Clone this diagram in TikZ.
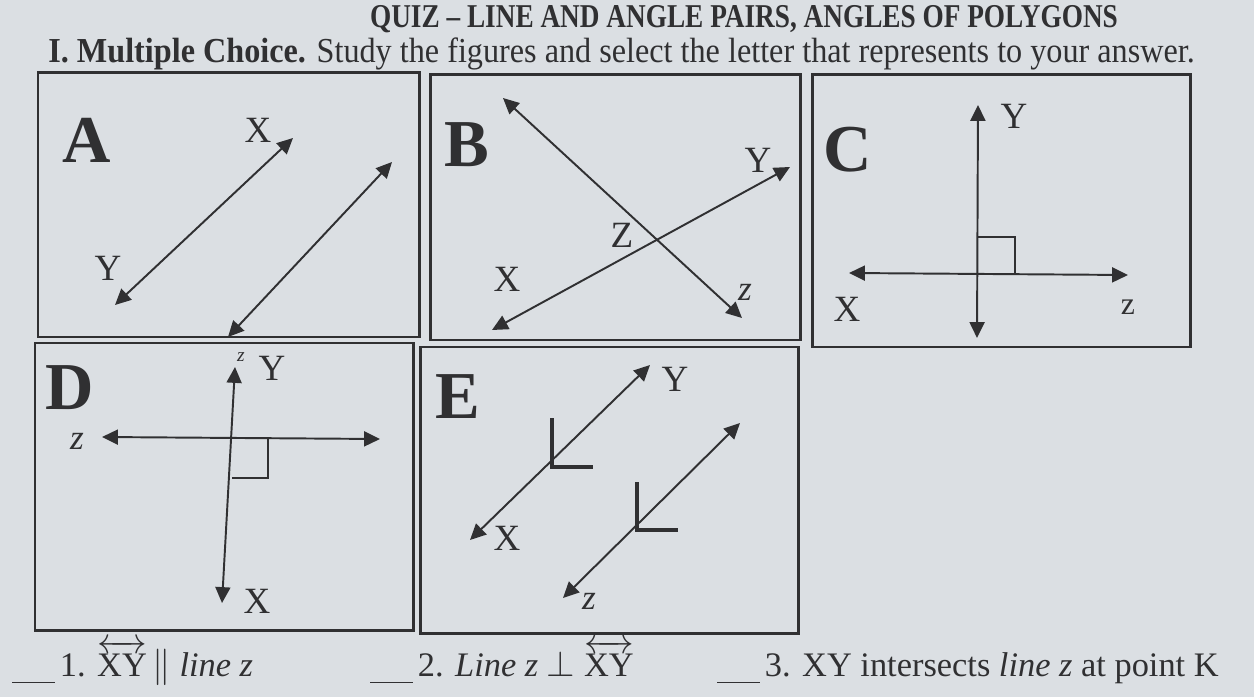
\documentclass[tikz,border=0pt]{standalone}
\usepackage{amsmath,amssymb}
\usepackage{fontspec}
\setmainfont{Liberation Serif}
\usepackage{graphicx}
\usetikzlibrary{arrows.meta,positioning}
\definecolor{paper}{RGB}{219,223,227}
\definecolor{ink}{RGB}{48,48,50}
\tikzstyle{panel}=[draw=ink,line width=1.7pt]
\tikzstyle{letter}=[font=\bfseries\fontsize{38}{38}\selectfont,text=ink,inner sep=0pt]
\tikzstyle{lbl}=[font=\fontsize{21}{21}\selectfont,text=ink,inner sep=0pt]
\tikzstyle{zlbl}=[font=\itshape\fontsize{20}{20}\selectfont,text=ink,inner sep=0pt]
\tikzstyle{line}=[draw=ink,line width=1.1pt,{Triangle[length=9pt,width=8.5pt]}-{Triangle[length=9pt,width=8.5pt]}]
\tikzstyle{rmark}=[draw=ink,line width=1.3pt]
\tikzstyle{lmark}=[draw=ink,line width=2.3pt]
\tikzstyle{item}=[font=\fontsize{19.5}{19.5}\selectfont,text=ink,inner sep=0pt,anchor=base west]
\newcommand{\blank}{\rule[-4pt]{24pt}{0.7pt}\hspace{3pt}}
\newcommand{\lineXY}{$\overleftrightarrow{\text{XY}}$}

\begin{document}
\begin{tikzpicture}[x=0.567pt,y=-0.567pt]
    \fill[paper] (0,0) rectangle (1254,697);
    \useasboundingbox (0,0) rectangle (1254,697);
    % heading
    \node[text=ink,inner sep=0pt,anchor=base] (title) at (744,28)
        {\resizebox{424pt}{12.5pt}{\bfseries QUIZ -- LINE AND ANGLE PAIRS, ANGLES OF POLYGONS}};
    \node[text=ink,inner sep=0pt,anchor=base west] (intro) at (48,63)
        {\resizebox{650pt}{14pt}{\textbf{I. Multiple Choice.} Study the figures and select the letter that represents to your answer.}};
    % panels
    \foreach \nw/\se in {{(38,73)/(419,337)}, {(430,75)/(800,340)}, {(812,75)/(1190,347)}, {(35,343)/(413,630)}, {(420,347)/(798,633)}}
        \draw[panel] \nw rectangle \se;
    \foreach \pos/\name in {{(87,140)/A}, {(467,145)/B}, {(848,150)/C}, {(70,388)/D}, {(458,397)/E}}
        \node[letter] (\name) at \pos {\name};
    % A
    \coordinate (aX) at (293,138); \coordinate (aY) at (115,305);
    \coordinate (az1) at (392,162); \coordinate (az2) at (228,337);
    \draw[line] (aY) -- (aX);
    \draw[line] (az2) -- (az1);
    \node[lbl] (aXl) at (258,130) {X};
    \node[lbl] (aYl) at (108,268) {Y};
    % B
    \coordinate (bz1) at (503,98); \coordinate (bz2) at (742,318);
    \coordinate (bY) at (790,167); \coordinate (bX) at (492,330);
    \draw[line] (bz1) -- (bz2);
    \draw[line] (bX) -- (bY);
    \node[lbl] (bYl) at (758,160) {Y};
    \node[lbl] (bZl) at (622,235) {Z};
    \node[lbl] (bXl) at (507,279) {X};
    \node[zlbl] (bzl) at (745,292) {z};
    % C
    \coordinate (cY) at (978,105); \coordinate (cY2) at (977,338);
    \coordinate (cX) at (849,273); \coordinate (cz) at (1128,275);
    \draw[line] (cY2) -- (cY);
    \draw[line] (cX) -- (cz);
    \draw[rmark] (978,237) -- (1015,237) -- (1015,274);
    \node[lbl] (cYl) at (1014,116) {Y};
    \node[lbl] (cXl) at (847,309) {X};
    \node[font=\fontsize{18}{18}\selectfont,text=ink,inner sep=0pt] (czl) at (1128,307) {z};
    % D
    \coordinate (dY) at (235,367); \coordinate (dX) at (222,603);
    \coordinate (dz) at (102,437); \coordinate (dz2) at (380,439);
    \draw[line] (dX) -- (dY);
    \draw[line] (dz) -- (dz2);
    \draw[rmark] (268,439) -- (268,478) -- (232,478);
    \node[lbl] (dYl) at (272,368) {Y};
    \node[zlbl,font=\itshape\fontsize{11}{11}\selectfont] (dzs) at (241,357) {z};
    \node[zlbl] (dzl) at (77,441) {z};
    \node[lbl] (dXl) at (257,601) {X};
    % E
    \coordinate (eY) at (650,365); \coordinate (eX) at (470,540);
    \coordinate (ez1) at (740,423); \coordinate (ez2) at (563,598);
    \draw[line] (eX) -- (eY);
    \draw[line] (ez2) -- (ez1);
    \draw[lmark] (552,418) -- (552,467) -- (593,467);
    \draw[lmark] (637,482) -- (637,530) -- (678,530);
    \node[lbl] (eYl) at (675,379) {Y};
    \node[lbl] (eXl) at (507,538) {X};
    \node[zlbl] (ezl) at (589,601) {z};
    % questions
    \node[item] (q1) at (12,676) {\blank 1. \lineXY\,$\parallel$ \textit{line z}};
    \node[item] (q2) at (370,676) {\blank 2. \textit{Line z} $\perp$ \lineXY};
    \node[item] (q3) at (717,676) {\blank 3. XY intersects \textit{line z} at point K};
\end{tikzpicture}
\end{document}
